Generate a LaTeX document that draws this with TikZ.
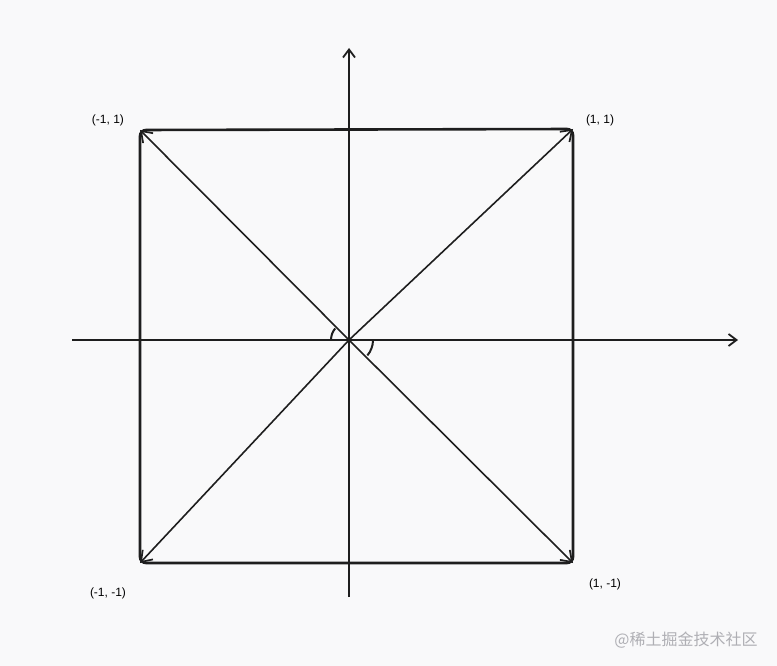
\documentclass[tikz,border=0pt]{standalone}
\usepackage{fontspec}
\setmainfont{Liberation Sans}
\newfontfamily\cjk{Noto Sans CJK SC}
\usetikzlibrary{arrows.meta}
\definecolor{paper}{RGB}{249,249,250}
\definecolor{ink}{RGB}{30,30,30}
\definecolor{wmgray}{RGB}{175,175,180}
\begin{document}
\begin{tikzpicture}[x=1pt,y=1pt,
		axis/.style={ink,line width=2pt,-{Straight Barb[length=8pt,width=12pt,line width=1.8pt]}},
		diag/.style={ink,line width=1.6pt,-{Straight Barb[length=10pt,width=14pt,line width=1.7pt]}},
		corner/.style={inner sep=0pt,font=\fontsize{12}{13}\selectfont}]
		\fill [paper] (0,0) rectangle (777,-666);
		\useasboundingbox (0,0) rectangle (777,-666);
		%
		\coordinate (O) at (349,-340);
		\coordinate (tl) at (140,-130);
		\coordinate (tr) at (573,-129);
		\coordinate (bl) at (140,-563);
		\coordinate (br) at (573,-563);
		\coordinate (xs) at (72,-340);
		\coordinate (xe) at (738,-340);
		\coordinate (ys) at (349,-597);
		\coordinate (ye) at (349,-48);
		%
		\draw [ink,line width=2.6pt,rounded corners=6pt] (tl) -- (tr) -- (br) -- (bl) -- cycle;
		\draw [axis] (xs) -- (xe);
		\draw [axis] (ys) -- (ye);
		\draw [diag] (O) -- (tl);
		\draw [diag] (O) -- (tr);
		\draw [diag] (O) -- (bl);
		\draw [diag] (O) -- (br);
		\draw [ink,line width=2pt] ([shift={(140:18)}]O) arc (140:178:18);
		\draw [ink,line width=2pt] ([shift={(-2:24)}]O) arc (-2:-40:24);
		%
		\node [corner] (ptl) at (108,-120) {(-1, 1)};
		\node [corner] (ptr) at (600,-120) {(1, 1)};
		\node [corner] (pbl) at (108,-593) {(-1, -1)};
		\node [corner] (pbr) at (605,-584) {(1, -1)};
		\node [wmgray,inner sep=0pt,font=\cjk\fontsize{16}{18}\selectfont] (wm) at (686,-640) {@稀土掘金技术社区};
	\end{tikzpicture}
\end{document}
